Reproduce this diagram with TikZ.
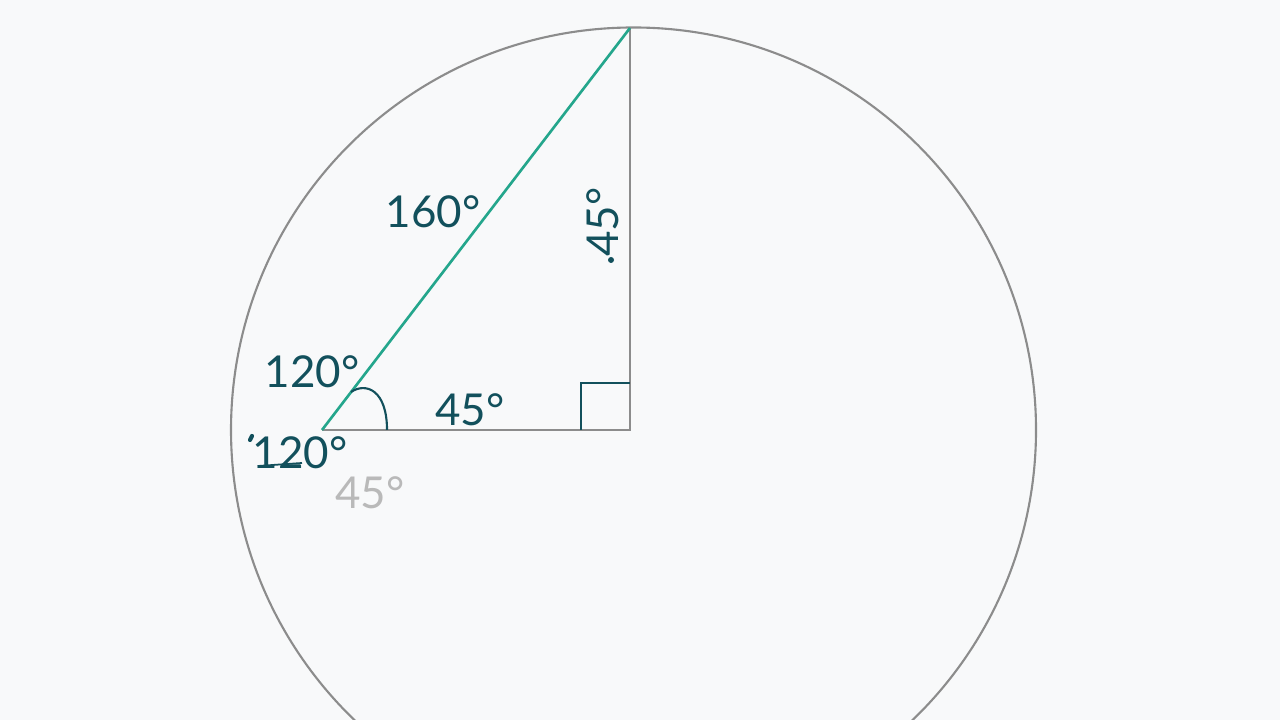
\documentclass[tikz,border=0pt]{standalone}
\usepackage{fontspec}
\setmainfont{Lato}
\usetikzlibrary{calc}

\definecolor{bgcol}{RGB}{248,249,250}
\definecolor{linegray}{RGB}{140,140,140}
\definecolor{tealline}{RGB}{36,166,140}
\definecolor{darkteal}{RGB}{18,80,92}
\definecolor{lightlabel}{RGB}{185,185,185}

\tikzset{
  gray line/.style={draw=linegray,line width=0.6pt},
  teal line/.style={draw=tealline,line width=0.75pt},
  mark line/.style={draw=darkteal,line width=0.6pt},
  deg label/.style={text=darkteal,font=\fontsize{12.5}{15}\selectfont,inner sep=0pt},
  faint label/.style={text=lightlabel,font=\fontsize{12.5}{15}\selectfont,inner sep=0pt}
}

\begin{document}
\begin{tikzpicture}
\useasboundingbox[fill=bgcol] (0,0) rectangle (12.8,7.2);
\clip (0,0) rectangle (12.8,7.2);

\coordinate (O) at (6.335,2.90);
\coordinate (A) at (3.22,2.90);
\coordinate (B) at (6.30,2.90);
\coordinate (C) at (6.30,6.92);

\draw[gray line] (O) circle (4.025);
\draw[gray line] (A) -- (B) -- (C);
\draw[teal line] (A) -- (C);

% right angle and angle mark
\draw[mark line] ($(B)+(-0.49,0)$) |- ($(B)+(0,0.47)$);
\draw[mark line] ($(A)+(0.29,0.38)$) .. controls ($(A)+(0.44,0.48)$) and ($(A)+(0.65,0.40)$) .. ($(A)+(0.65,0)$);

\node[deg label] (lhyp) at (4.33,5.08) {160°};
\node[deg label,rotate=90] (lvert) at (6.03,4.98) {45°};
\fill[darkteal] (6.11,4.60) circle (0.03);
\node[deg label] (ltop) at (3.12,3.48) {120°};
\node[deg label] (lbase) at (4.70,3.10) {45°};
\node[deg label] (lout) at (3.00,2.67) {120°};
\node[faint label] (lfaint) at (3.70,2.27) {45°};

% stray pen strokes
\draw[darkteal,line width=1.2pt,line cap=round] (2.50,2.80) -- (2.52,2.84);
\draw[darkteal,line width=0.5pt] (2.58,2.54) -- (3.02,2.57);

\end{tikzpicture}
\end{document}
